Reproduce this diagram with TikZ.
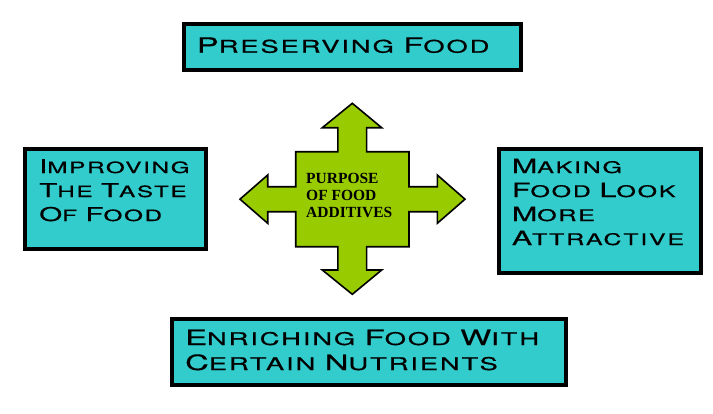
\documentclass[tikz,border=0pt]{standalone}
\usepackage{fontspec}
\setmainfont{Liberation Serif}
\newfontfamily\copperfont{TeX Gyre Heros}[FakeStretch=1.56,LetterSpace=11,FakeBold=0.6]
\newfontfamily\stencilfont{Liberation Serif}
\definecolor{boxcyan}{HTML}{33CCCC}
\definecolor{crossgreen}{HTML}{99CC00}
\def\capsz{21}\def\scsz{17.5}
\def\cw#1#2{{\fontsize{\capsz}{24}\selectfont #1}{\fontsize{\scsz}{24}\selectfont #2}}
\tikzset{
	box/.style={line width=4pt, draw=black, fill=boxcyan},
	boxtext/.style={anchor=base west, inner sep=0pt, align=left, font=\copperfont\fontsize{\scsz}{24}\selectfont},
	cross/.style={line width=1.6pt, draw=black, fill=crossgreen, line join=miter}
}

\begin{document}
\begin{tikzpicture}[x=1pt, y=-1pt]
		%%%%% START %%%%%
		\useasboundingbox (0, 0) rectangle (713, 413);
		
		% top box
		\draw[box] (184.3, 24.3) rectangle (520.7, 69.7);
		\node[boxtext] (preserve) at (196.7, 52.7) {\cw{P}{RESERVING} \cw{F}{OOD}};
		
		% left box (base anchor sits on the last line)
		\draw[box] (25.3, 148.7) rectangle (206.3, 249);
		\node[boxtext, font=\copperfont\def\capsz{19}\def\scsz{15.5}\fontsize{\scsz}{24}\selectfont] (taste) at (39, 221)
			{\cw{I}{MPROVING}\\ \cw{T}{HE} \cw{T}{ASTE}\\ \cw{O}{F} \cw{F}{OOD}};
		
		% right box
		\draw[box] (498.7, 148.7) rectangle (701.3, 273);
		\node[boxtext, font=\copperfont\def\capsz{19.5}\def\scsz{16}\fontsize{\scsz}{24}\selectfont] (attract) at (511.7, 245)
			{\cw{M}{AKING}\\ \cw{F}{OOD} \cw{L}{OOK}\\ \cw{M}{ORE}\\ \cw{A}{TTRACTIVE}};
		
		% bottom box
		\draw[box] (172, 318.7) rectangle (566.3, 384.7);
		\node[boxtext, font=\copperfont\fontsize{\scsz}{25}\selectfont] (enrich) at (185, 370)
			{\cw{E}{NRICHING} \cw{F}{OOD} \cw{W}{ITH}\\ \cw{C}{ERTAIN} \cw{N}{UTRIENTS}};
		
		% green cross
		\draw[cross] (295.7, 151.7) -- (337.9, 151.7) -- (337.9, 127.7) -- (322.3, 127.7)
			-- (352.3, 103.3) -- (381.7, 127.7) -- (366.6, 127.7) -- (366.6, 151.7)
			-- (409, 151.7) -- (409, 186.7) -- (437.3, 186.7) -- (437.3, 175)
			-- (465, 199.2) -- (437.3, 223.3) -- (437.3, 211.7) -- (409, 211.7)
			-- (409, 246.7) -- (366.6, 246.7) -- (366.6, 270) -- (381.7, 270)
			-- (352.3, 294.3) -- (322.3, 270) -- (337.9, 270) -- (337.9, 246.7)
			-- (295.7, 246.7) -- (295.7, 211.7) -- (267.7, 211.7) -- (267.7, 223.3)
			-- (240, 199.2) -- (267.7, 175) -- (267.7, 186.7) -- (295.7, 186.7) -- cycle;
		\node[anchor=base west, inner sep=0pt, align=left, font=\stencilfont\bfseries\fontsize{15.5}{17}\selectfont] (purpose) at (306, 217.3)
			{PURPOSE\\OF FOOD\\ADDITIVES};
		
		%%%%% END %%%%%
	\end{tikzpicture}
\end{document}
